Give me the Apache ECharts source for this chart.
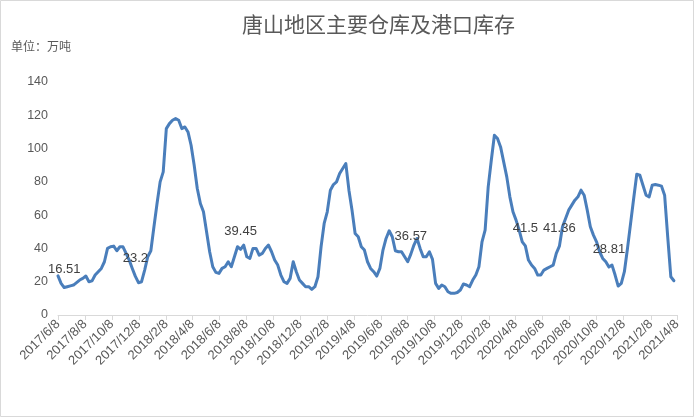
<!DOCTYPE html>
<html><head><meta charset="utf-8">
<script src="https://cdn.jsdelivr.net/npm/echarts@6/dist/echarts.min.js"></script>
<style>html,body{margin:0;padding:0;background:#fff}#c{width:696px;height:418px}</style>
</head><body><div id="c"></div>
<script>
const titleText = '唐山地区主要仓库及港口库存';
const unitText = '单位：万吨';
const startDate = '2017/6/8';
const endDate = '2021/4/8';
// weekly stock values (万吨) from 2017/6/8
const stockValues = [
23.5,19,16.51,17,17.5,18,19.5,21,22,23.4,
20,20.5,24,26,28,32,40,41,41.4,38.6,
41,41,37,33,28,23.2,19.4,20,27,35,
38.6,53,67,80,86,112,115,117,118,117,
112,113,110,102,90,76,67,62,50,38,
29,25.6,25,28,29,32,29,35,41,39.45,
42,35,34,40,40,36,37,40,42,38,
33,30,24,20,19,22,32,26,21,19,
17,17,15.4,17,23,41,55,62,75,78.4,
80,85,88,91,75,63,49,47,41,39,
32,28,26,23.4,28,39,46,50.6,47,38.6,
38,38,35,32,36.57,42,46,40,35,35,
38,33.4,19,16,18,17,14,13,13,13.5,
15,18.6,18,17,21,24,29,44,51,77,
93,108,106,101,92,83,71,62,57,51,
44,41.5,33,30,28,24,24,27,28,29,
30,37,41.36,53,58,63,66,69,71,75,
72,63,53,48,44,38,34,32,28.81,30,
24,17.4,19,26,40,55,70,84.6,84,78,
72,71,78,78.4,78,77.4,72,47,23,20.6
];
// indices of points that carry a data label
const labelIndices = [2,25,59,114,151,162,178];
const tickLabels = ['2017/6/8','2017/8/8','2017/10/8','2017/12/8','2018/2/8','2018/4/8','2018/6/8','2018/8/8','2018/10/8','2018/12/8','2019/2/8','2019/4/8','2019/6/8','2019/8/8','2019/10/8','2019/12/8','2020/2/8','2020/4/8','2020/6/8','2020/8/8','2020/10/8','2020/12/8','2021/2/8','2021/4/8'];
const yMin = 0, yMax = 140, yInterval = 20;

const DAY = 86400000;
function toDay(s){const p=s.split('/').map(Number);return Math.round(Date.UTC(p[0],p[1]-1,p[2])/DAY);}
function fmt(v){const d=new Date(v*DAY);return d.getUTCFullYear()+'/'+(d.getUTCMonth()+1)+'/'+d.getUTCDate();}
const d0 = toDay(startDate);
const seriesData = stockValues.map((v,i)=>{
  const item={value:[d0+7*i,v]};
  if(labelIndices.indexOf(i)>=0){item.label={show:true};}
  return item;
});
const tickDays = tickLabels.map(toDay);

const chart = echarts.init(document.getElementById('c'),null,{renderer:'canvas'});
chart.setOption({
  animation:false,
  backgroundColor:'#fff',
  textStyle:{fontFamily:'"Noto Sans CJK SC",sans-serif'},
  title:{text:titleText,left:237,top:9,textStyle:{fontSize:21,fontWeight:'normal',color:'#595959',fontFamily:'"Noto Sans CJK SC",sans-serif'}},
  graphic:[
    {type:'rect',shape:{x:0.5,y:0.5,width:693,height:416},style:{fill:'none',stroke:'#d9d9d9',lineWidth:1},silent:true},
    {type:'text',left:11,top:40,style:{text:unitText,fill:'#595959',font:'12px "Noto Sans CJK SC",sans-serif'}}
  ],
  grid:{left:58,right:19,top:82,bottom:103,containLabel:false},
  xAxis:{type:'value',min:toDay(startDate),max:toDay(endDate),
    axisLine:{show:true,lineStyle:{color:'#d9d9d9',width:1}},
    axisTick:{show:true,length:5,lineStyle:{color:'#d9d9d9'},customValues:tickDays},
    axisLabel:{customValues:tickDays,formatter:fmt,rotate:45,color:'#595959',fontSize:13,margin:7,fontFamily:'"Liberation Sans",Arial,sans-serif'},
    splitLine:{show:false}},
  yAxis:{type:'value',min:yMin,max:yMax,interval:yInterval,
    axisLine:{show:false},axisTick:{show:false},splitLine:{show:false},
    axisLabel:{color:'#595959',fontSize:12.5,margin:10,fontFamily:'"Liberation Sans",Arial,sans-serif'}},
  series:[{type:'line',data:seriesData,showSymbol:true,symbol:'circle',symbolSize:1,smooth:false,
    lineStyle:{color:'#4a7ebb',width:3,join:'round',cap:'round'},
    itemStyle:{color:'#4a7ebb'},
    labelLayout:{hideOverlap:false},
    label:{show:false,position:'top',distance:11,color:'#404040',fontSize:13,fontFamily:'"Liberation Sans",Arial,sans-serif',formatter:p=>String(p.value[1])}}]
});
</script></body></html>
